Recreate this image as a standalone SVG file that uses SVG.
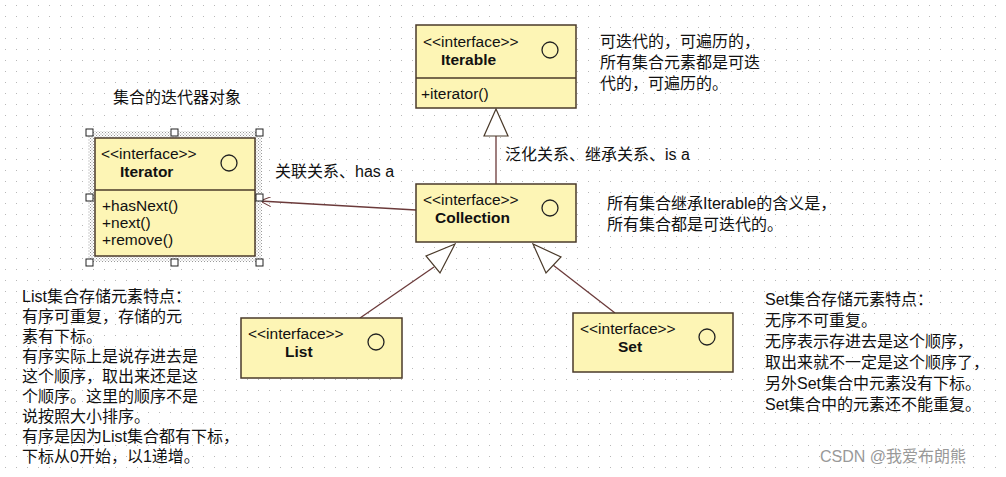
<svg xmlns="http://www.w3.org/2000/svg" width="1006" height="477" viewBox="0 0 1006 477">
<defs>
<pattern id="grid" width="11" height="11" patternUnits="userSpaceOnUse"><rect x="5" y="5" width="1" height="1" fill="#b8b8b8"/></pattern>
<pattern id="sel" width="3" height="3" patternUnits="userSpaceOnUse"><rect width="3" height="3" fill="#fff"/><rect width="1" height="1" fill="#999"/><rect x="1.5" y="1.5" width="1" height="1" fill="#999"/></pattern>
<marker id="open" markerWidth="12" markerHeight="10" refX="11" refY="5" orient="auto" markerUnits="userSpaceOnUse"><path d="M0,0 L11,5 L0,10" fill="none" stroke="#6b3a3a" stroke-width="1"/></marker>
</defs>
<style>
.box{fill:#fdf5b5;stroke:#4a3a2a;stroke-width:1.5}
.t{font-family:"Liberation Sans",Arial,sans-serif;font-size:15.5px;fill:#111}
.b{font-weight:bold}
.c{font-family:"Liberation Sans","Noto Sans CJK SC",sans-serif;font-size:16px;fill:#111}
.ln{stroke:#6b3a3a;stroke-width:1.3;fill:none}
.tri{fill:#fff;stroke:#4a3a2a;stroke-width:1.2}
.h{fill:#fff;stroke:#222;stroke-width:1}
</style>
<rect width="1006" height="477" fill="#fff"/>
<rect width="1006" height="477" fill="url(#grid)"/>
<g id="connectors">
<line class="ln" x1="416" y1="210" x2="260" y2="201" marker-end="url(#open)"/>
<line class="ln" x1="496" y1="184" x2="496" y2="136"/>
<polygon class="tri" points="496,109 484,136 508,136"/>
<line class="ln" x1="360" y1="318" x2="434" y2="267"/>
<polygon class="tri" points="455,244 426,256 440,273"/>
<line class="ln" x1="615" y1="313" x2="553" y2="265"/>
<polygon class="tri" points="533,244 546,273 561,257"/>
</g>
<g id="iterable">
<rect class="box" x="416" y="25" width="160" height="83"/>
<line x1="416" y1="78" x2="576" y2="78" stroke="#4a3a2a" stroke-width="1.3"/>
<text class="t" x="423" y="47">&lt;&lt;interface&gt;&gt;</text>
<text class="t b" x="441" y="65">Iterable</text>
<circle cx="550" cy="50" r="8" fill="none" stroke="#222" stroke-width="1.3"/>
<text class="t" x="421" y="99">+iterator()</text>
</g>
<g id="collection">
<rect class="box" x="416" y="184" width="160" height="58"/>
<text class="t" x="423" y="205">&lt;&lt;interface&gt;&gt;</text>
<text class="t b" x="435" y="223">Collection</text>
<circle cx="550" cy="208" r="8" fill="none" stroke="#222" stroke-width="1.3"/>
</g>
<g id="iterator">
<rect x="88" y="131" width="174" height="131" fill="url(#sel)"/>
<rect class="box" x="95" y="138" width="160" height="118"/>
<line x1="95" y1="190" x2="255" y2="190" stroke="#4a3a2a" stroke-width="1.3"/>
<text class="t" x="101" y="159">&lt;&lt;interface&gt;&gt;</text>
<text class="t b" x="120" y="177">Iterator</text>
<circle cx="229" cy="163" r="8" fill="none" stroke="#222" stroke-width="1.3"/>
<text class="t" x="102" y="211">+hasNext()</text>
<text class="t" x="102" y="228">+next()</text>
<text class="t" x="102" y="245">+remove()</text>
<rect class="h" x="86" y="129" width="7" height="7"/><rect class="h" x="171" y="129" width="7" height="7"/><rect class="h" x="256" y="129" width="7" height="7"/>
<rect class="h" x="86" y="194" width="7" height="7"/><rect class="h" x="256" y="194" width="7" height="7"/>
<rect class="h" x="86" y="259" width="7" height="7"/><rect class="h" x="171" y="259" width="7" height="7"/><rect class="h" x="256" y="259" width="7" height="7"/>
</g>
<g id="list">
<rect class="box" x="241" y="318" width="161" height="60"/>
<text class="t" x="248" y="339">&lt;&lt;interface&gt;&gt;</text>
<text class="t b" x="285" y="357">List</text>
<circle cx="376" cy="342" r="8" fill="none" stroke="#222" stroke-width="1.3"/>
</g>
<g id="set">
<rect class="box" x="573" y="313" width="160" height="59"/>
<text class="t" x="580" y="334">&lt;&lt;interface&gt;&gt;</text>
<text class="t b" x="618" y="352">Set</text>
<circle cx="707" cy="337" r="8" fill="none" stroke="#222" stroke-width="1.3"/>
</g>
<g id="texts">
<text class="c" x="113" y="103">集合的迭代器对象</text>
<text class="c" x="600" y="47">可迭代的，可遍历的，</text>
<text class="c" x="600" y="68">所有集合元素都是可迭</text>
<text class="c" x="600" y="89">代的，可遍历的。</text>
<text class="c" x="505" y="160">泛化关系、继承关系、is a</text>
<text class="c" x="275" y="177">关联关系、has a</text>
<text class="c" x="607" y="209">所有集合继承Iterable的含义是，</text>
<text class="c" x="607" y="230">所有集合都是可迭代的。</text>
<text class="c" x="22" y="302">List集合存储元素特点：</text>
<text class="c" x="22" y="322">有序可重复，存储的元</text>
<text class="c" x="22" y="342">素有下标。</text>
<text class="c" x="22" y="362">有序实际上是说存进去是</text>
<text class="c" x="22" y="382">这个顺序，取出来还是这</text>
<text class="c" x="22" y="402">个顺序。这里的顺序不是</text>
<text class="c" x="22" y="422">说按照大小排序。</text>
<text class="c" x="22" y="442">有序是因为List集合都有下标，</text>
<text class="c" x="22" y="462">下标从0开始，以1递增。</text>
<text class="c" x="765" y="305">Set集合存储元素特点：</text>
<text class="c" x="765" y="326">无序不可重复。</text>
<text class="c" x="765" y="347">无序表示存进去是这个顺序，</text>
<text class="c" x="765" y="368">取出来就不一定是这个顺序了，</text>
<text class="c" x="765" y="389">另外Set集合中元素没有下标。</text>
<text class="c" x="765" y="410">Set集合中的元素还不能重复。</text>
<text class="c" x="820" y="462" style="fill:#999">CSDN @我爱布朗熊</text>
</g>
</svg>
